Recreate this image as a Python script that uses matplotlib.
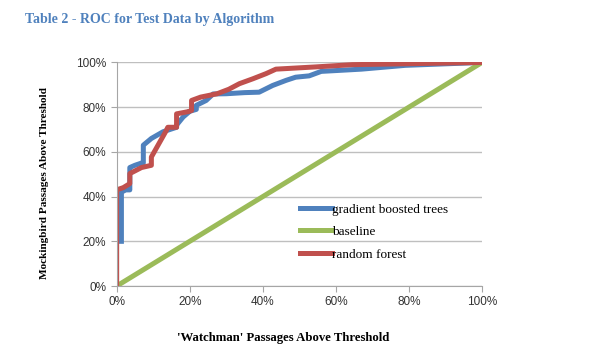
import numpy as np
import matplotlib.pyplot as plt
from matplotlib.ticker import PercentFormatter

# ROC points (false positive %, true positive %)
gbt_x = [1.3, 1.3, 2.5, 3.6, 3.6, 5.0, 6.8, 7.3, 7.3, 9.5, 12.7, 16.4, 16.4, 18.2, 19.7, 19.7,
         21.8, 21.8, 24.5, 26.4, 30.0, 35.0, 39.0, 42.7, 46.4, 49.0, 52.7, 56.0, 67.0, 79.0, 100]
gbt_y = [20, 42, 43, 43, 53, 54, 55, 55, 63, 66, 69, 71, 72, 75.6, 77.7, 78,
         79, 80.8, 83, 85.9, 86, 86.5, 86.7, 89.7, 92, 93.4, 94, 96, 97, 98.7, 100]

rf_x = [0, 0, 1.8, 3.6, 3.6, 6.8, 9.5, 9.5, 13.6, 14.0, 16.4, 16.4, 19.6, 20.5, 20.5, 23.0,
        27.5, 30.7, 33.6, 37.3, 40.9, 43.6, 54.5, 64.5, 100]
rf_y = [0, 43, 44, 45.8, 50.3, 53, 54, 57.7, 69.6, 71, 71, 77, 78, 78.5, 83, 84.5,
        86, 88, 90.5, 92.7, 95, 97, 98, 99, 100]

base_x = [0, 100]
base_y = [0, 100]

blue = '#4F81BD'
green = '#9BBB59'
red = '#C0504D'

fig = plt.figure(figsize=(6.14, 3.63), dpi=100)
ax = fig.add_axes([0.19, 0.212, 0.595, 0.616])

ax.plot(gbt_x, gbt_y, color=blue, linewidth=3.6, label='gradient boosted trees')
ax.plot(base_x, base_y, color=green, linewidth=3.6, label='baseline')
ax.plot(rf_x, rf_y, color=red, linewidth=3.6, label='random forest')

ax.set_xlim(0, 100)
ax.set_ylim(0, 100)
ax.set_xticks(np.arange(0, 101, 20))
ax.set_yticks(np.arange(0, 101, 20))
ax.xaxis.set_major_formatter(PercentFormatter(decimals=0))
ax.yaxis.set_major_formatter(PercentFormatter(decimals=0))
ax.yaxis.grid(True, color='#BFBFBF', linewidth=1)
ax.set_axisbelow(True)
for s in ['top', 'right']:
    ax.spines[s].set_visible(False)
for s in ['left', 'bottom']:
    ax.spines[s].set_color('#A6A6A6')
ax.tick_params(colors='#A6A6A6', labelcolor='#333333', labelsize=8.5, length=4, width=0.8)
for lab in ax.get_xticklabels() + ax.get_yticklabels():
    lab.set_family('Liberation Sans')

ax.set_xlabel("'Watchman' Passages Above Threshold", family='Liberation Serif',
              fontweight='bold', fontsize=9.2)
ax.xaxis.set_label_coords(0.455, -0.205)
ax.set_ylabel('Mockingbird Passages Above Threshold', family='Liberation Serif',
              fontweight='bold', fontsize=8.1)
ax.yaxis.set_label_coords(-0.185, 0.46)

leg = ax.legend(loc='upper left', bbox_to_anchor=(0.502, 0.37), frameon=False,
                prop={'family': 'Liberation Serif', 'size': 9.5},
                borderaxespad=0, borderpad=0,
                handlelength=2.4, handletextpad=0.0, labelspacing=0.78)

fig.text(0.041, 0.945, 'Table 2 - ROC for Test Data by Algorithm', color=blue,
         family='Liberation Serif', fontweight='bold', fontsize=10, va='center')

fig.savefig('out.png', dpi=100)
